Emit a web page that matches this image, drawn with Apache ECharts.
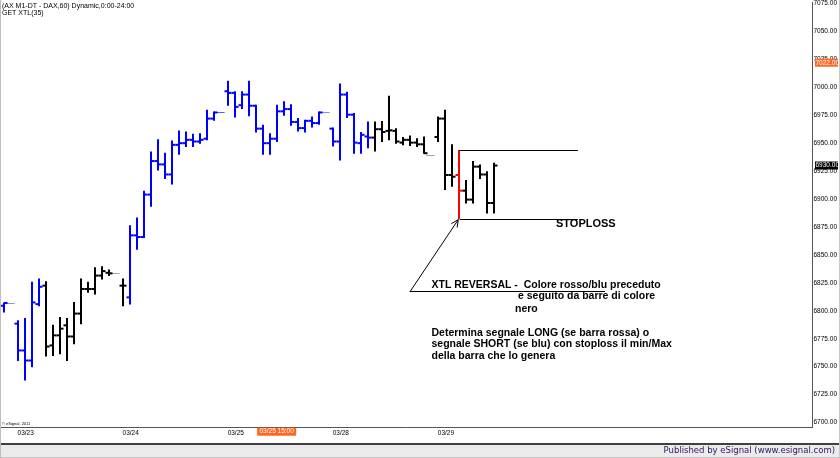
<!DOCTYPE html>
<html><head><meta charset="utf-8">
<script src="https://cdn.jsdelivr.net/npm/echarts@6/dist/echarts.min.js"></script>
<style>html,body{margin:0;padding:0;background:#fff;overflow:hidden}#c{width:840px;height:458px}</style>
</head><body><div id="c"></div>
<script>
// ---- data ----
const dayLabels = ['03/23', '03/24', '03/25', '03/28', '03/29'];
const sessionHours = ['08','09','10','11','12','13','14','15','16','17','18','19','20','21'];
const yTickValues = [6700, 6725, 6750, 6775, 6800, 6825, 6850, 6875, 6900, 6925, 6950, 6975, 7000, 7025, 7050, 7075];

const barSlot  = [0, 2, 3, 4, 5, 6, 7, 8, 9, 10, 11, 12, 13, 14, 15,
                  17, 18, 19, 20, 21, 22, 23, 24, 25, 26, 27, 28, 29, 30,
                  32, 33, 34, 35, 36, 37, 38, 39, 40, 41, 42, 43, 44, 45,
                  47, 48, 49, 50, 51, 52, 53, 54, 55, 56, 57, 58, 59, 60,
                  62, 63, 64, 65, 66, 67, 68, 69, 70];
const barOpen  = [6804.5, 6788.5, 6764.5, 6755.5, 6806, 6822.5, 6769, 6778, 6787, 6777, 6797.5, 6819.5, 6819.5, 6831.5, 6834,
                  6822.5, 6812, 6867.5, 6866, 6904, 6934, 6931, 6922, 6948.5, 6950, 6953, 6951.5, 6954, 6972,
                  6996.5, 6995, 6984, 6993.5, 6983.5, 6963, 6950, 6954, 6978.5, 6980.5, 6969, 6963.5, 6970, 6968,
                  6963, 6951.5, 6993.5, 6975.5, 6950, 6956, 6955, 6962.5, 6961, 6961, 6950.5, 6953, 6950.5, 6949,
                  6955.5, 6972, 6921.5, 6921.5, 6907.5, 6899.5, 6929, 6922, 6896.5];
const barHigh  = [6807, 6791, 6793, 6825.5, 6828.5, 6826, 6787, 6794, 6793, 6807.5, 6828.5, 6825.5, 6838.5, 6839.5, 6836.5,
                  6828.5, 6876, 6883, 6907, 6942, 6953, 6941, 6952, 6961, 6960, 6958, 6958.5, 6979.5, 6978,
                  7005.5, 6996, 6996, 7005.5, 6984, 6966, 6958.5, 6984, 6987, 6984.5, 6972, 6970.5, 6973.5, 6978,
                  6963.5, 7003, 6995.5, 6976.5, 6959.5, 6969, 6969, 6969.5, 6992, 6963, 6955, 6956.5, 6954, 6955.5,
                  6973.5, 6979.5, 6948.5, 6943.5, 6916.5, 6933.5, 6930.5, 6924.5, 6932];
const barLow   = [6799, 6755.5, 6738, 6750, 6804.5, 6759.5, 6760, 6761.5, 6755.5, 6770.5, 6788.5, 6816.5, 6815, 6828.5, 6831.5,
                  6804.5, 6806, 6855, 6865.5, 6893.5, 6926, 6918.5, 6913.5, 6940, 6947, 6947, 6950, 6953, 6970.5,
                  6984, 6973.5, 6981, 6974.5, 6960, 6940, 6940, 6951.5, 6975, 6966, 6961, 6960, 6964.5, 6967,
                  6947.5, 6935, 6973, 6941, 6941, 6946, 6943, 6951.5, 6953, 6950, 6948.5, 6948, 6947, 6941,
                  6951.5, 6908.5, 6911.5, 6882.5, 6896.5, 6896.5, 6918.5, 6887.5, 6887.5];
const barClose = [6807, 6764.5, 6755.5, 6807.5, 6821.5, 6768, 6778, 6784, 6777, 6797.5, 6819.5, 6819.5, 6831.5, 6835.5, 6833.5,
                  6822.5, 6867.5, 6866, 6904, 6934, 6931, 6922, 6948.5, 6950, 6953, 6951.5, 6953, 6972, 6977.5,
                  6995, 6982.5, 6993.5, 6983.5, 6963, 6950, 6954, 6978.5, 6980.5, 6969, 6963.5, 6970, 6968, 6977.5,
                  6951.5, 6993.5, 6975.5, 6950.5, 6957.5, 6955, 6962.5, 6960, 6961.5, 6951.5, 6953, 6950.5, 6949, 6941,
                  6972, 6921.5, 6920, 6907.5, 6899.5, 6929, 6922, 6896.5, 6930];
const barColor = ['b','b','b','b','b','k','k','k','k','k','k','k','k','k','k',
                  'k','b','b','b','b','b','b','b','b','b','b','b','b','b',
                  'b','b','b','b','b','b','b','b','b','b','b','b','b','b',
                  'b','b','b','b','b','b','k','k','k','k','k','k','k','k',
                  'k','k','k','r','k','k','k','k','k'];
const gapSlot  = [1, 16, 31, 46, 61];
const gapPrice = [6807, 6833.5, 6977.5, 6977.5, 6939];
const gapColor = ['#8c8cff', '#a8a8a8', '#5a5aff', '#8c8cff', '#a0a0a0'];
const markerPrices = [7022, 6930];
const markerLabels = ['7022.00', '6930.00'];
const cursorSlot = 39, cursorLabel = '03/25 15:00';
const signalSlot = 65, stopEndSlot = 82;

// ---- axis structure ----
const categories = ['03/22 21:00', '03/22 g'];
const dayStartIdx = [];
dayLabels.forEach(d => {
  dayStartIdx.push(categories.length);
  sessionHours.forEach(h => categories.push(d + ' ' + h + ':00'));
  categories.push(d + ' g');
});
while (categories.length < 116) categories.push('pad' + categories.length);

const COLORS = { b: '#0000ff', k: '#000000', r: '#ff0000' };
const barData = barSlot.map((s, i) => [s, barOpen[i], barHigh[i], barLow[i], barClose[i]]);
const gapData = gapSlot.map((s, i) => [s, gapPrice[i]]);

const chart = echarts.init(document.getElementById('c'), null, { renderer: 'canvas' });
const FONT = 'Liberation Sans, Arial, sans-serif';

const option = {
  animation: false,
  backgroundColor: '#ffffff',
  grid: { left: 0, right: 26, top: 0, bottom: 31 },
  xAxis: {
    type: 'category', data: categories, boundaryGap: true,
    axisLine: { lineStyle: { color: '#555555', width: 1 } },
    axisTick: { show: false },
    axisLabel: {
      interval: (idx) => dayStartIdx.includes(idx),
      formatter: (v) => v.slice(0, 5),
      align: 'left', margin: 3, fontSize: 6.5, color: '#000', fontFamily: FONT
    },
    splitLine: { show: false }
  },
  yAxis: {
    type: 'value', position: 'right', min: 6696, max: 7076,
    axisLine: { show: true, lineStyle: { color: '#555555', width: 1 } },
    axisTick: { show: false },
    splitLine: { show: false },
    axisLabel: {
      customValues: yTickValues,
      formatter: (v) => v.toFixed(2),
      margin: 1, fontSize: 6.5, color: '#000', fontFamily: FONT, align: 'left'
    }
  },
  series: [
    {
      type: 'custom', name: 'gaps', data: gapData, encode: { x: 0, y: 1 }, z: 2,
      renderItem: (params, api) => {
        const p = api.coord([api.value(0), api.value(1)]);
        const y = Math.round(p[1]) + 0.5;
        return { type: 'line', shape: { x1: p[0] - 4.5, y1: y, x2: p[0] + 4, y2: y },
          style: { stroke: gapColor[params.dataIndex], lineWidth: 1 } };
      }
    },
    {
      type: 'custom', name: 'XTL bars', data: barData, encode: { x: 0, y: [1, 2, 3, 4] }, z: 3,
      renderItem: (params, api) => {
        const s = api.value(0);
        const po = api.coord([s, api.value(1)]);
        const ph = api.coord([s, api.value(2)]);
        const pl = api.coord([s, api.value(3)]);
        const pc = api.coord([s, api.value(4)]);
        const col = COLORS[barColor[params.dataIndex]];
        const x = Math.round(ph[0]);
        return { type: 'group', children: [
          { type: 'line', shape: { x1: x, y1: ph[1] - 0.5, x2: x, y2: pl[1] + 0.5 }, style: { stroke: col, lineWidth: 2 } },
          { type: 'line', shape: { x1: x - 3.5, y1: po[1], x2: x, y2: po[1] }, style: { stroke: col, lineWidth: 2 } },
          { type: 'line', shape: { x1: x, y1: pc[1], x2: x + 3.5, y2: pc[1] }, style: { stroke: col, lineWidth: 2 } }
        ] };
      }
    },
    {
      type: 'custom', name: 'stop lines', z: 4,
      data: [[signalSlot, barHigh[barSlot.indexOf(signalSlot)]], [signalSlot, barLow[barSlot.indexOf(signalSlot)]]],
      encode: { x: 0, y: 1 },
      renderItem: (params, api) => {
        const a = api.coord([api.value(0), api.value(1)]);
        const b = api.coord([stopEndSlot, api.value(1)]);
        const y = Math.round(a[1]) + 0.5;
        return { type: 'line', shape: { x1: a[0] + 1, y1: y, x2: b[0], y2: y }, style: { stroke: '#000', lineWidth: 1 } };
      }
    }
  ]
};
chart.setOption(option);

// ---- decorations and annotations ----
const g = [];
const TXT = (x, y, text, size, opts) => Object.assign({
  type: 'text', x: x, y: y, z: 50,
  style: Object.assign({ text: text, fontSize: size, fontFamily: FONT, fill: '#000', verticalAlign: 'middle', align: 'left' }, opts || {})
});
g.push(TXT(2, 6, '(AX M1-DT - DAX,60) Dynamic,0:00-24:00', 7));
g.push(TXT(2, 13.5, 'GET XTL(35)', 7));
g.push(TXT(2, 423.5, '\u00a9 eSignal, 2011', 4));

// price markers on axis
markerPrices.forEach((p, i) => {
  const yy = chart.convertToPixel({ yAxisIndex: 0 }, p);
  g.push({ type: 'rect', z: 60, shape: { x: 815, y: yy - 4, width: 23, height: 8 }, style: { fill: i === 0 ? '#ff6622' : '#000000' } });
  g.push(Object.assign(TXT(815.5, yy, markerLabels[i], 6.5, { fill: '#ffffff' }), { z: 61 }));
});
// cursor time label
const cx = chart.convertToPixel({ xAxisIndex: 0 }, categories[cursorSlot]);
g.push({ type: 'rect', z: 60, shape: { x: cx - 19.5, y: 427.7, width: 39, height: 8 }, style: { fill: '#ff6622' } });
g.push(Object.assign(TXT(cx, 431.7, cursorLabel, 6.5, { fill: '#ffffff', align: 'center' }), { z: 61 }));

// arrow from text to the signal bar low
const redIdx = barSlot.indexOf(signalSlot);
const tip = chart.convertToPixel({ xAxisIndex: 0, yAxisIndex: 0 }, [signalSlot, barLow[redIdx]]);
const tx = tip[0] - 0.5, ty = tip[1] + 1;
const tail = [410, 291.7];
const ang = Math.atan2(ty - tail[1], tx - tail[0]);
const ah = 8, aw = 0.45;
g.push({ type: 'line', z: 40, shape: { x1: tail[0], y1: tail[1], x2: tx, y2: ty }, style: { stroke: '#000', lineWidth: 1 } });
g.push({ type: 'polyline', z: 40, shape: { points: [
  [tx - ah * Math.cos(ang - aw), ty - ah * Math.sin(ang - aw)], [tx, ty],
  [tx - ah * Math.cos(ang + aw), ty - ah * Math.sin(ang + aw)]] }, style: { stroke: '#000', lineWidth: 1, fill: null } });
g.push({ type: 'line', z: 40, shape: { x1: 410, y1: 291.5, x2: 605, y2: 291.5 }, style: { stroke: '#000', lineWidth: 1 } });

const B = { fontWeight: 'bold' };
g.push(TXT(556, 224, 'STOPLOSS', 11, B));
g.push(TXT(431.5, 285.5, 'XTL REVERSAL -  Colore rosso/blu preceduto', 10.5, B));
g.push(TXT(518, 296.5, 'e seguito da barre di colore', 10.5, B));
g.push(TXT(515, 309, 'nero', 10.5, B));
g.push(TXT(431.5, 333, 'Determina segnale LONG (se barra rossa) o', 10.5, B));
g.push(TXT(431.5, 344.5, 'segnale SHORT (se blu) con stoploss il min/Max', 10.5, B));
g.push(TXT(431.5, 356, 'della barra che lo genera', 10.5, B));

// frame & footer
g.push({ type: 'rect', z: 30, shape: { x: 0, y: 444.5, width: 840, height: 13.5 }, style: { fill: '#ebebeb' } });
g.push({ type: 'line', z: 31, shape: { x1: 0, y1: 444, x2: 840, y2: 444 }, style: { stroke: '#000', lineWidth: 1.5 } });
g.push({ type: 'line', z: 31, shape: { x1: 0, y1: 457.5, x2: 840, y2: 457.5 }, style: { stroke: '#c8c8c8', lineWidth: 1 } });
g.push({ type: 'line', z: 31, shape: { x1: 0.5, y1: 0, x2: 0.5, y2: 458 }, style: { stroke: '#bdbdbd', lineWidth: 1 } });
g.push({ type: 'line', z: 31, shape: { x1: 839.5, y1: 0, x2: 839.5, y2: 458 }, style: { stroke: '#c8c8c8', lineWidth: 1 } });
g.push(TXT(835, 451, 'Published by eSignal (www.esignal.com)', 8.5, { fill: '#2e1660', align: 'right', fontFamily: 'DejaVu Sans, Verdana, sans-serif' }));

chart.setOption({ graphic: { elements: g } });
</script>
</body></html>
